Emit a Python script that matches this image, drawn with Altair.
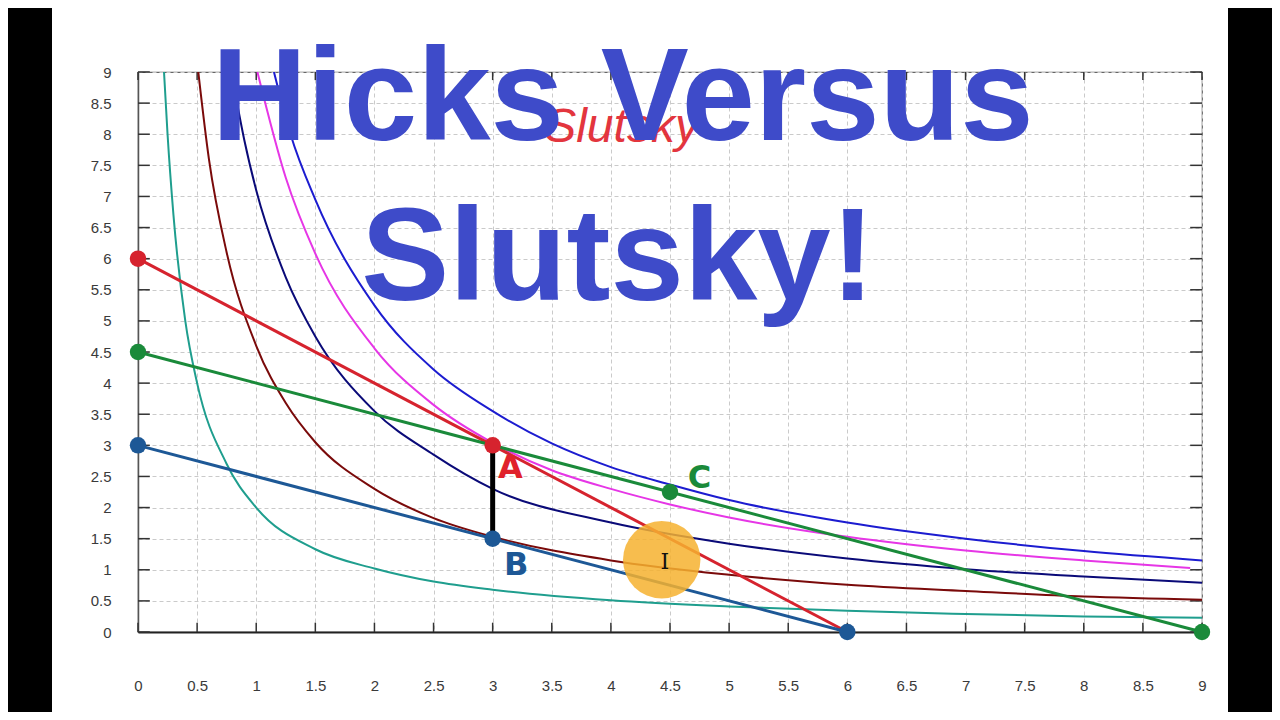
import altair as alt
import pandas as pd

# ---------------- data ----------------
steps = [i * 0.5 for i in range(19)]          # tick / grid positions 0 .. 9

curve_names = ["teal", "darkred", "navy", "magenta", "blue"]
curve_colors = ["#1f9e8e", "#7a0a0a", "#0a0a78", "#e636e6", "#1c1cd0"]

teal_x = [0.22, 0.25, 0.3, 0.4, 0.5, 0.75, 1, 1.5, 2, 2.5, 3, 4, 5, 6, 7, 8, 9]
teal_y = [9, 8, 6.7, 5, 4, 2.7, 2, 1.33, 1.02, 0.81, 0.68, 0.51, 0.41, 0.34, 0.29, 0.25, 0.23]

darkred_x = [0.51, 0.6, 0.75, 1, 1.25, 1.5, 2, 2.5, 3, 4, 5, 6, 7, 8, 9]
darkred_y = [9, 7.6, 6.1, 4.6, 3.68, 3.05, 2.3, 1.83, 1.53, 1.15, 0.92, 0.76, 0.66, 0.57, 0.52]

navy_x = [0.79, 0.9, 1, 1.25, 1.5, 2, 2.5, 3, 4, 5, 6, 7, 8, 9]
navy_y = [9, 7.9, 7.1, 5.7, 4.75, 3.55, 2.85, 2.3, 1.76, 1.42, 1.18, 1.01, 0.89, 0.79]

magenta_x = [1.01, 1.25, 1.5, 2, 2.5, 3, 3.5, 4, 4.5, 5, 6, 7, 8, 8.9]
magenta_y = [9, 7.3, 6.08, 4.56, 3.65, 3.04, 2.6, 2.3, 2.05, 1.84, 1.53, 1.31, 1.15, 1.03]

blue_x = [1.15, 1.29, 1.5, 2, 2.5, 3, 3.5, 4, 4.5, 5, 6, 7, 8, 9]
blue_y = [9, 8, 6.95, 5.25, 4.22, 3.55, 3.03, 2.65, 2.37, 2.12, 1.76, 1.5, 1.3, 1.15]

curves_x = [teal_x, darkred_x, navy_x, magenta_x, blue_x]
curves_y = [teal_y, darkred_y, navy_y, magenta_y, blue_y]

budget_names = ["red", "green", "steel"]
budget_colors = ["#d6232e", "#1a8a3a", "#1d5896"]
budget_x = [[0, 6], [0, 9], [0, 6]]
budget_y = [[6, 0], [4.5, 0], [3, 0]]

point_x = [[0, 3], [0, 4.5, 9], [0, 3, 6]]
point_y = [[6, 3], [4.5, 2.25, 0], [3, 1.5, 0]]

hicks_x = [3, 3]
hicks_y = [3, 1.5]

labels_text = ["A", "B", "C"]
labels_x = [3.15, 3.2, 4.75]
labels_y = [2.64, 1.08, 2.48]
labels_color = ["#e0222c", "#1d5896", "#1a8a3a"]

highlight_x = [4.43]
highlight_y = [1.16]

title_lines = ["Hicks Versus", "Slutsky!"]
title_x = [4.1, 4.06]
title_y = [7.91, 5.34]

note_text = ["Slutsky"]
note_x = [4.09]
note_y = [7.88]

# ---------------- tables ----------------
curve_rows = []
for n, xs, ys in zip(curve_names, curves_x, curves_y):
    for i, (a, b) in enumerate(zip(xs, ys)):
        curve_rows.append({"curve": n, "x": a, "y": b, "o": i})
curves_df = pd.DataFrame(curve_rows)

budget_rows = []
for n, xs, ys in zip(budget_names, budget_x, budget_y):
    for i, (a, b) in enumerate(zip(xs, ys)):
        budget_rows.append({"line": n, "x": a, "y": b, "o": i})
budget_df = pd.DataFrame(budget_rows)

point_rows = []
for n, xs, ys in zip(budget_names, point_x, point_y):
    for a, b in zip(xs, ys):
        point_rows.append({"line": n, "x": a, "y": b})
points_df = pd.DataFrame(point_rows)

hicks_df = pd.DataFrame({"x": hicks_x, "y": hicks_y, "o": [0, 1]})
labels_df = pd.DataFrame({"t": labels_text, "x": labels_x, "y": labels_y, "c": labels_color})
hl_df = pd.DataFrame({"x": highlight_x, "y": highlight_y})
title_df = pd.DataFrame({"t": title_lines, "x": title_x, "y": title_y})
note_df = pd.DataFrame({"t": note_text, "x": note_x, "y": note_y})

# inward ticks on all four sides
tick_rows = []
for v in steps:
    tick_rows.append({"x": 0, "x2": 0.1, "y": v, "y2": v})
    tick_rows.append({"x": 8.9, "x2": 9, "y": v, "y2": v})
    tick_rows.append({"x": v, "x2": v, "y": 0, "y2": 0.15})
    tick_rows.append({"x": v, "x2": v, "y": 8.87, "y2": 9})
ticks_df = pd.DataFrame(tick_rows)

# ---------------- scales / axes ----------------
xs_ = alt.Scale(domain=[0, 9], nice=False, zero=False)
ys_ = alt.Scale(domain=[0, 9], nice=False, zero=False)

x_axis = alt.Axis(values=steps, format=".1~f", title=None, tickSize=0, labelPadding=46,
                  labelFontSize=15, labelColor="#3a3a3a", labelFont="Liberation Sans",
                  labelFlush=False, labelOverlap=False, grid=True, gridColor="#cacaca",
                  gridDash=[4, 3], gridWidth=1, domainColor="#222", domainWidth=2)
y_axis = alt.Axis(values=steps, format=".1~f", title=None, tickSize=0, labelPadding=27,
                  labelFontSize=15, labelColor="#3a3a3a", labelFont="Liberation Sans",
                  labelFlush=False, labelOverlap=False, labelAlign="right",
                  grid=True, gridColor="#cacaca", gridDash=[4, 3], gridWidth=1,
                  domainColor="#555", domainWidth=1.5)


def X(f="x"):
    return alt.X(f"{f}:Q", scale=xs_, axis=x_axis)


def Y(f="y"):
    return alt.Y(f"{f}:Q", scale=ys_, axis=y_axis)


ticks = alt.Chart(ticks_df).mark_rule(color="#333", strokeWidth=1.5).encode(
    x=X(), x2="x2:Q", y=Y(), y2="y2:Q")

curves = alt.Chart(curves_df).mark_line(strokeWidth=2, interpolate="monotone", clip=True).encode(
    x=X(), y=Y(), order="o:Q",
    stroke=alt.Stroke("curve:N", scale=alt.Scale(domain=curve_names, range=curve_colors), legend=None))

budgets = alt.Chart(budget_df).mark_line(strokeWidth=3, clip=False).encode(
    x=X(), y=Y(), order="o:Q",
    color=alt.Color("line:N", scale=alt.Scale(domain=budget_names, range=budget_colors), legend=None))

hicks = alt.Chart(hicks_df).mark_line(strokeWidth=5, color="#000", strokeCap="round").encode(
    x=X(), y=Y(), order="o:Q")

points = alt.Chart(points_df).mark_circle(size=270, opacity=1).encode(
    x=X(), y=Y(),
    color=alt.Color("line:N", scale=alt.Scale(domain=budget_names, range=budget_colors), legend=None))

labels = alt.Chart(labels_df).mark_text(fontSize=32, font="DejaVu Sans", fontWeight="bold",
                                        align="center", baseline="middle").encode(
    x=X(), y=Y(), text="t:N", fill=alt.Fill("c:N", scale=None))

highlight = alt.Chart(hl_df).mark_circle(size=6000, color="#f6b22f", opacity=0.85).encode(
    x=X(), y=Y())
cursor = alt.Chart(hl_df).mark_text(text="I", font="DejaVu Serif", fontSize=22, color="#111",
                                    baseline="middle", dx=3, dy=2).encode(x=X(), y=Y())

note = alt.Chart(note_df).mark_text(fontSize=48, font="Liberation Sans", fontStyle="italic",
                                    color="#e0202a", align="center", baseline="alphabetic",
                                    opacity=0.9).encode(x=X(), y=Y(), text="t:N")

title = alt.Chart(title_df).mark_text(fontSize=132, font="Liberation Sans", fontWeight="bold",
                                      color="#3e4bc9", align="center", baseline="alphabetic").encode(
    x=X(), y=Y(), text="t:N")

one = pd.DataFrame({"a": [0]})
left_bar = alt.Chart(one).mark_rect(color="#000", clip=False).encode(
    x=alt.value(-138), x2=alt.value(-86), y=alt.value(-72), y2=alt.value(660))
right_bar = alt.Chart(one).mark_rect(color="#000", clip=False).encode(
    x=alt.value(1090), x2=alt.value(1150), y=alt.value(-72), y2=alt.value(660))

chart = alt.layer(
    ticks, curves, budgets, hicks, points, labels, highlight, cursor, note, title,
    left_bar, right_bar
).resolve_scale(color="independent", stroke="independent").properties(
    width=1064, height=560,
    padding={"left": 130, "top": 64, "right": 70, "bottom": 80},
    autosize=alt.AutoSizeParams(type="none"),
    background="white",
).configure_view(stroke="#666", strokeWidth=1.2)

chart.save("out.html", embed_options={"renderer": "svg", "actions": False})
